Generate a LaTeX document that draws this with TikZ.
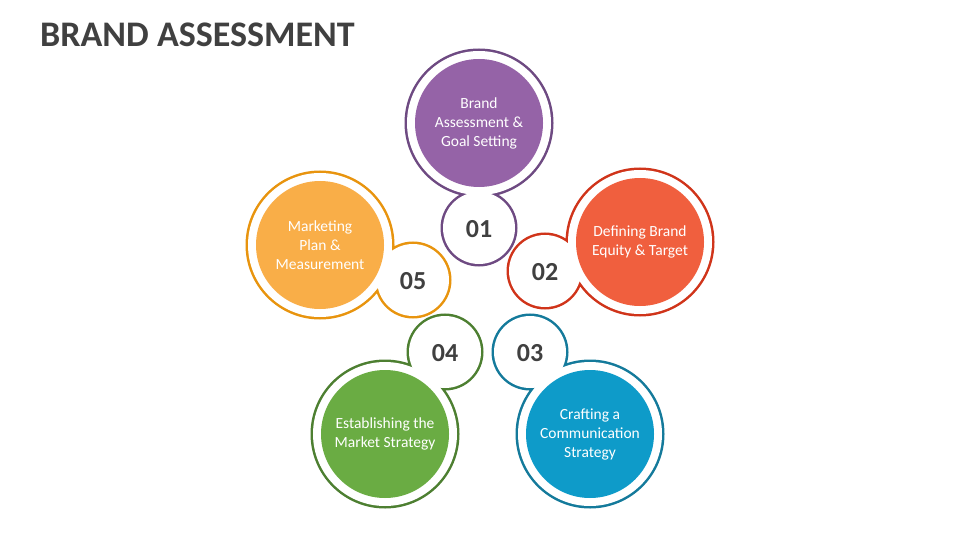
\documentclass[tikz,border=0pt]{standalone}
\usepackage{fontspec}
\setmainfont{Carlito}
\begin{document}
\begin{tikzpicture}[x=1pt,y=-1pt,
  lbl/.style={text=white,align=center,font=\fontsize{15.5}{19}\selectfont},
  num/.style={text=black!75,font=\bfseries\fontsize{26}{28}\selectfont}]
\useasboundingbox (0,0) rectangle (960,540);
\fill[white] (0,0) rectangle (960,540);
\node[anchor=west,text=black!75,font=\bfseries\fontsize{36}{38}\selectfont,inner sep=0pt] (title) at (40,35) {BRAND ASSESSMENT};
\newcommand{\petal}[8]{%
  \draw[line width=5pt,draw=#6] (#1,#2) circle (72) (#3,#4) circle (36);
  \fill[white] (#1,#2) circle (72) (#3,#4) circle (36);
  \fill[#5] (#1,#2) circle (64);
  \node[lbl] (#7) at (#1,#2) {#8};
}
\definecolor{p1}{HTML}{9563A7}\definecolor{o1}{HTML}{6E4A82}
\definecolor{p2}{HTML}{F05F3E}\definecolor{o2}{HTML}{D0341A}
\definecolor{p3}{HTML}{0E9BC9}\definecolor{o3}{HTML}{147A9B}
\definecolor{p4}{HTML}{6AAC43}\definecolor{o4}{HTML}{4D7F31}
\definecolor{p5}{HTML}{F9AE48}\definecolor{o5}{HTML}{E8940E}
\petal{479}{123}{479}{228}{p1}{o1}{t1}{Brand\\Assessment \&\\Goal Setting}
\petal{640}{242}{545}{271}{p2}{o2}{t2}{Defining Brand\\Equity \& Target}
\petal{590}{434}{530}{352}{p3}{o3}{t3}{Crafting a\\Communication\\Strategy}
\petal{385}{434}{445}{352}{p4}{o4}{t4}{Establishing the\\Market Strategy}
\petal{320}{245}{413}{280}{p5}{o5}{t5}{Marketing\\Plan \&\\Measurement}
\node[num] (n1) at (479,229) {01};
\node[num] (n2) at (545,272) {02};
\node[num] (n3) at (530,353) {03};
\node[num] (n4) at (445,353) {04};
\node[num] (n5) at (413,281) {05};
\end{tikzpicture}
\end{document}
